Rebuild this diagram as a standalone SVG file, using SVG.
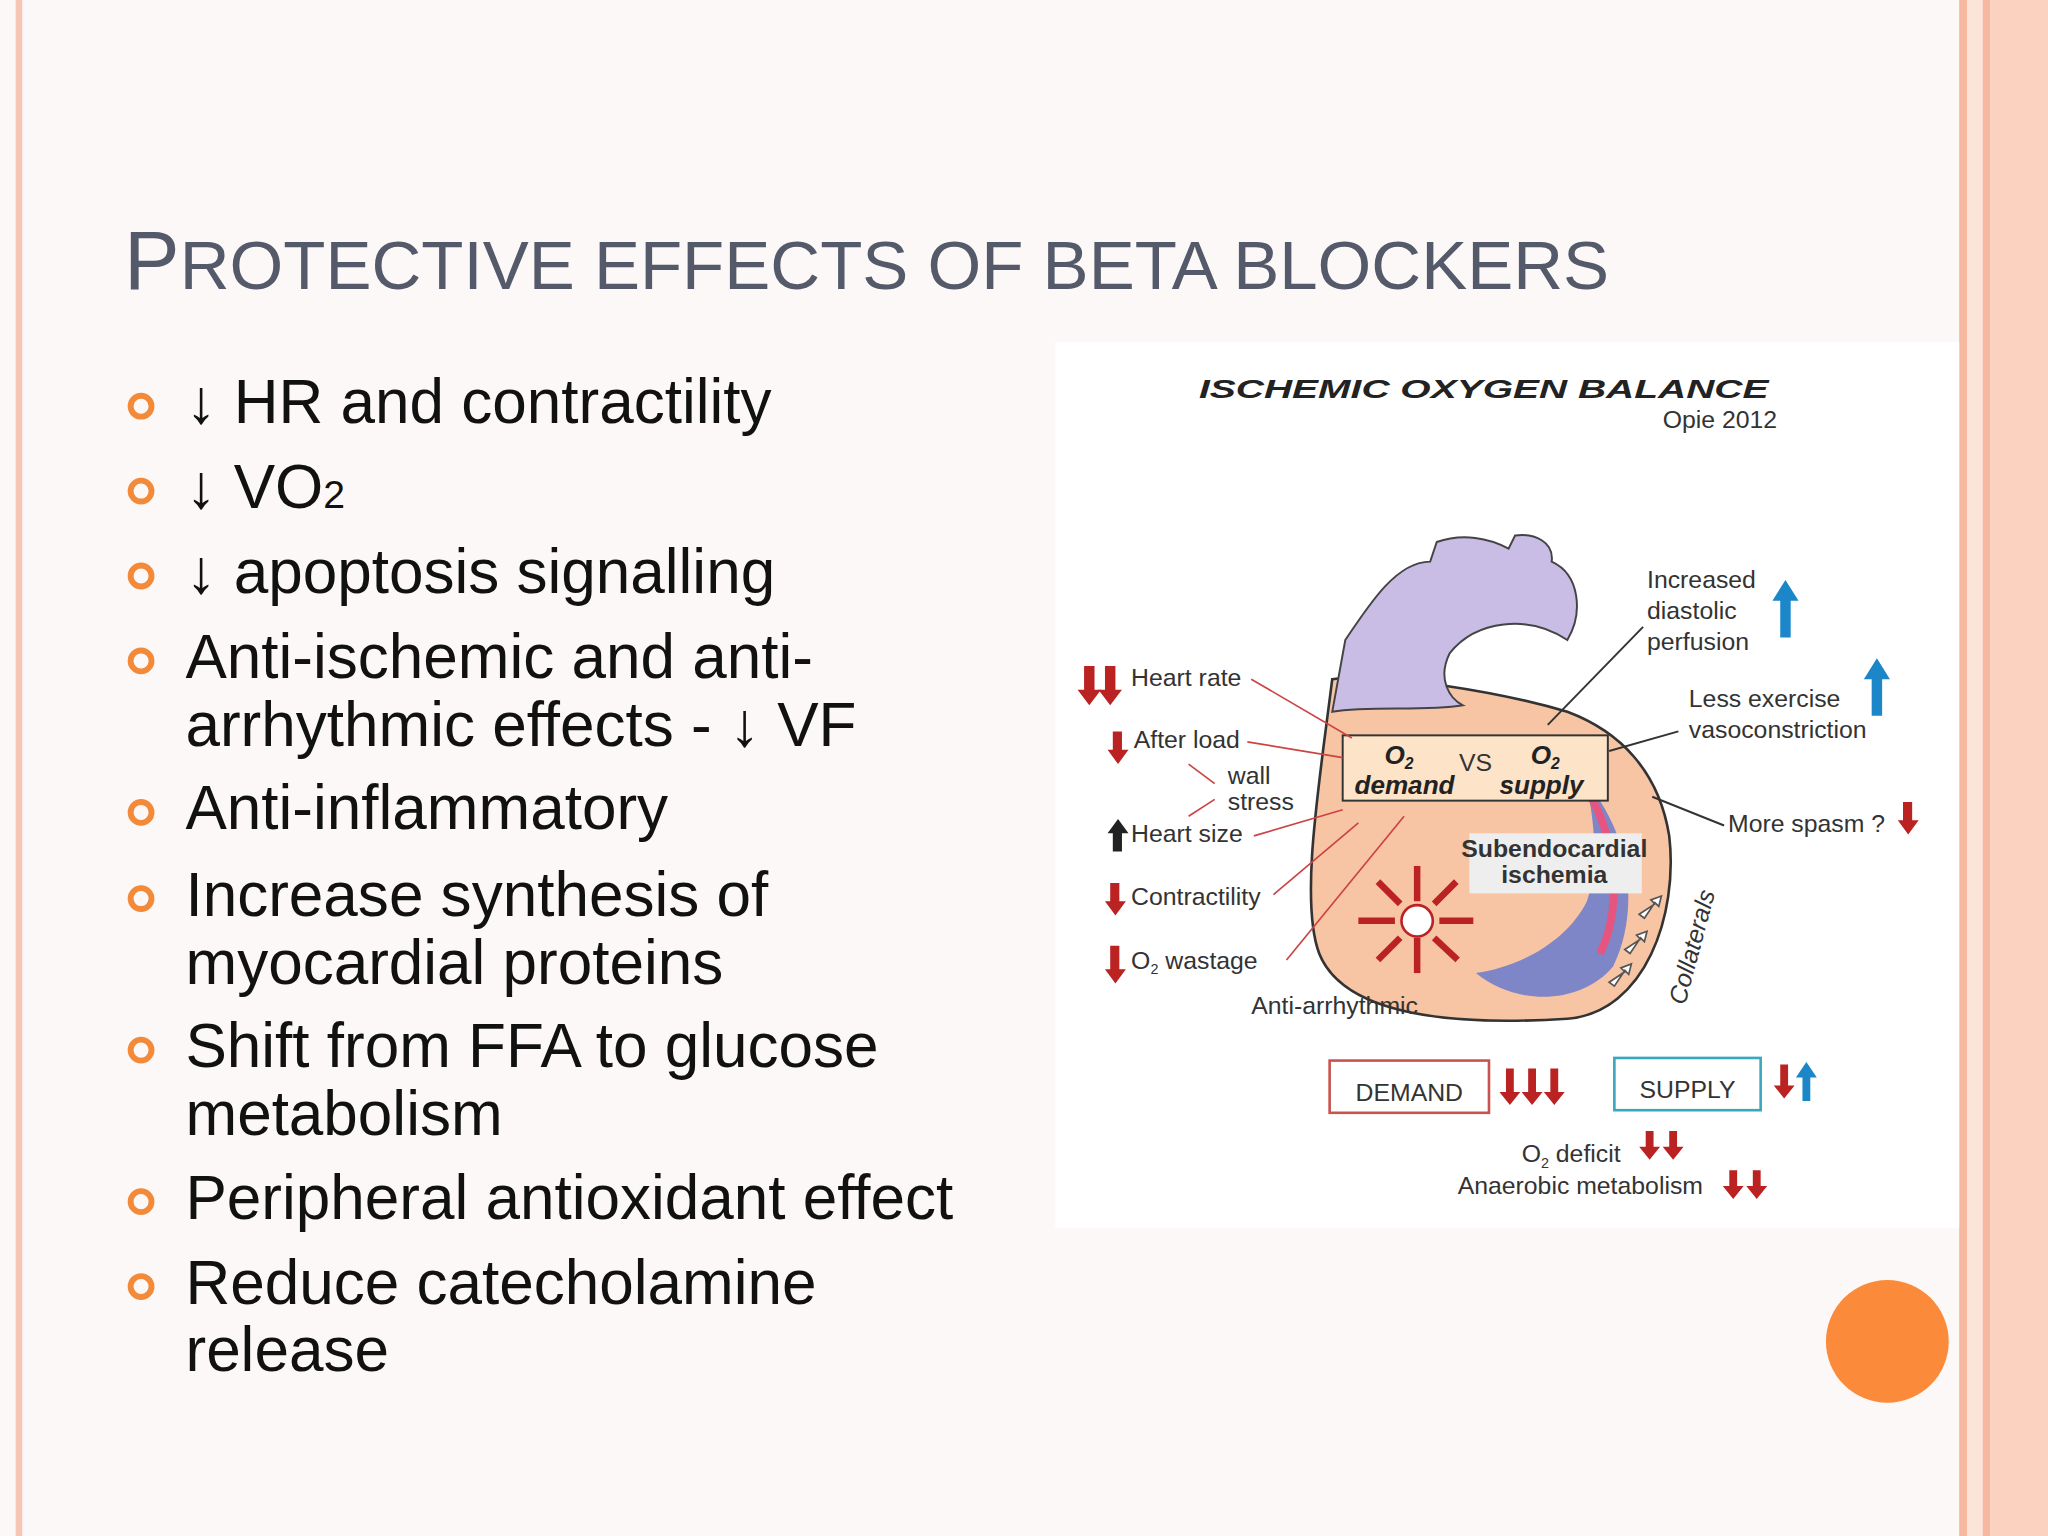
<svg xmlns="http://www.w3.org/2000/svg" width="2048" height="1536" viewBox="0 0 2048 1536">
<defs>
<style>
.b{font-family:"Liberation Sans",Arial,sans-serif;font-size:47.5px;fill:#111}
.s{font-family:"Liberation Sans",Arial,sans-serif;font-size:19px;fill:#333}
.bi{font-family:"Liberation Sans",Arial,sans-serif;font-size:20px;font-weight:bold;font-style:italic;fill:#222}
.ln{stroke:#c44;stroke-width:1.3;fill:none}
.dk{stroke:#333;stroke-width:1.5;fill:none}
</style>
</defs>
<rect width="2048" height="1536" fill="#fcf8f7"/>
<g transform="scale(1.30612)">
<rect x="12" y="0" width="5" height="1176" fill="#f6c5b4"/>
<rect x="1500" y="0" width="6" height="1176" fill="#f6b9a0"/>
<rect x="1506" y="0" width="12" height="1176" fill="#fde4d8"/>
<rect x="1518" y="0" width="6" height="1176" fill="#f6b9a0"/>
<rect x="1524" y="0" width="44" height="1176" fill="#fbd2c0"/>
<text x="95" y="221" font-family="Liberation Sans,Arial,sans-serif" fill="#545a6a" font-size="64" textLength="1137" lengthAdjust="spacingAndGlyphs">P<tspan font-size="53">ROTECTIVE EFFECTS OF BETA BLOCKERS</tspan></text>
<g fill="none" stroke="#f28a3a" stroke-width="4.5">
<circle cx="108" cy="311" r="8"/><circle cx="108" cy="376" r="8"/><circle cx="108" cy="441" r="8"/><circle cx="108" cy="506" r="8"/><circle cx="108" cy="622" r="8"/><circle cx="108" cy="688" r="8"/><circle cx="108" cy="804" r="8"/><circle cx="108" cy="920" r="8"/><circle cx="108" cy="985" r="8"/>
</g>
<text class="b" x="142" y="324">↓ HR and contractility</text>
<text class="b" x="142" y="389">↓ VO<tspan font-size="30">2</tspan></text>
<text class="b" x="142" y="454">↓ apoptosis signalling</text>
<text class="b" x="142" y="519">Anti-ischemic and anti-</text>
<text class="b" x="142" y="571">arrhythmic effects - ↓ VF</text>
<text class="b" x="142" y="635">Anti-inflammatory</text>
<text class="b" x="142" y="701">Increase synthesis of</text>
<text class="b" x="142" y="753">myocardial proteins</text>
<text class="b" x="142" y="817">Shift from FFA to glucose</text>
<text class="b" x="142" y="869">metabolism</text>
<text class="b" x="142" y="933">Peripheral antioxidant effect</text>
<text class="b" x="142" y="998">Reduce catecholamine</text>
<text class="b" x="142" y="1050">release</text>
<g id="figure">
<rect x="808" y="262" width="692" height="678" fill="#fff"/>
<text class="bi" x="918" y="305" font-size="29" textLength="436" lengthAdjust="spacingAndGlyphs">ISCHEMIC OXYGEN BALANCE</text>
<text class="s" x="1273" y="328" font-size="16">Opie 2012</text>
<path d="M1020,520 C1010,600 995,690 1010,730 C1030,780 1120,785 1200,780 C1260,775 1285,700 1278,640 C1270,590 1240,560 1200,545 C1150,530 1060,515 1020,520Z" fill="#f7c4a4" stroke="#333" stroke-width="2"/>
<path d="M1020,545 L1030,490 C1050,460 1070,430 1095,430 L1100,415 C1120,408 1140,412 1155,420 L1160,410 C1175,408 1190,415 1188,430 C1210,440 1212,470 1200,490 C1170,470 1130,475 1110,500 C1100,520 1110,535 1120,540 C1090,545 1050,540 1020,545Z" fill="#c9bde6" stroke="#444" stroke-width="1.5"/>
<path d="M1215,600 C1250,640 1255,700 1235,740 C1210,770 1160,770 1130,745 C1165,740 1200,720 1215,690 C1225,660 1220,630 1215,600Z" fill="#7f86c8"/>
<path d="M1218,610 C1240,650 1240,700 1225,730" stroke="#e6557f" stroke-width="6" fill="none"/>
<rect x="1028" y="563" width="203" height="50" fill="#fde3c8" stroke="#333" stroke-width="1.5"/>
<text class="bi" x="1060" y="585">O<tspan font-size="12" dy="4">2</tspan></text>
<text class="s" x="1117" y="590">VS</text>
<text class="bi" x="1172" y="585">O<tspan font-size="12" dy="4">2</tspan></text>
<text class="bi" x="1037" y="608">demand</text>
<text class="bi" x="1148" y="608">supply</text>
<rect x="1125" y="638" width="132" height="46" fill="#eee"/>
<text class="s" x="1190" y="656" text-anchor="middle" font-weight="bold" font-size="15">Subendocardial</text>
<text class="s" x="1190" y="676" text-anchor="middle" font-weight="bold" font-size="15">ischemia</text>
<g stroke="#b22" stroke-width="5">
<line x1="1085" y1="663" x2="1085" y2="690"/><line x1="1085" y1="718" x2="1085" y2="745"/><line x1="1040" y1="705" x2="1068" y2="705"/><line x1="1102" y1="705" x2="1128" y2="705"/><line x1="1055" y1="675" x2="1072" y2="692"/><line x1="1098" y1="718" x2="1116" y2="735"/><line x1="1115" y1="675" x2="1098" y2="692"/><line x1="1072" y1="718" x2="1055" y2="735"/>
</g>
<circle cx="1085" cy="705" r="12" fill="#fff" stroke="#b22" stroke-width="2"/>
<g class="ln">
<path d="M958,520 L1035,565"/><path d="M955,568 L1028,580"/><path d="M910,585 L930,600"/><path d="M910,625 L930,612"/><path d="M960,640 L1028,620"/><path d="M975,685 L1040,630"/><path d="M985,735 L1075,625"/>
</g>
<g class="dk"><path d="M1258,480 L1185,555"/><path d="M1285,560 L1232,575"/><path d="M1320,632 L1265,610"/></g>
<text class="s" x="866" y="525">Heart rate</text>
<text class="s" x="868" y="573">After load</text>
<text class="s" x="940" y="600">wall</text>
<text class="s" x="940" y="620">stress</text>
<text class="s" x="866" y="645">Heart size</text>
<text class="s" x="866" y="693">Contractility</text>
<text class="s" x="866" y="742">O<tspan font-size="11" dy="4">2</tspan><tspan dy="-4"> wastage</tspan></text>
<text class="s" x="958" y="776">Anti-arrhythmic</text>
<text class="s" x="1261" y="450">Increased</text>
<text class="s" x="1261" y="474">diastolic</text>
<text class="s" x="1261" y="498">perfusion</text>
<text class="s" x="1293" y="541">Less exercise</text>
<text class="s" x="1293" y="565">vasoconstriction</text>
<text class="s" x="1323" y="637">More spasm ?</text>
<text class="s" x="1290" y="770" transform="rotate(-75 1290 770)" font-style="italic" font-size="15">Collaterals</text>
<g fill="#b22">
<path d="M830,510h8v18h5l-9,12l-9,-12h5z"/><path d="M846,510h8v18h5l-9,12l-9,-12h5z"/>
<path d="M852,560h7v14h5l-8,11l-8,-11h4z"/>
<path d="M852,652h7v-14h5l-8,-11l-8,11h4z" fill="#222"/>
<path d="M850,676h7v14h5l-8,11l-8,-11h4z"/>
<path d="M850,724h7v18h5l-8,11l-8,-11h4z"/>
<path d="M1457,614h7v14h5l-8,11l-8,-11h4z"/>
<path d="M1153,818h6v18h5l-8,10l-8,-10h5z"/><path d="M1170,818h6v18h5l-8,10l-8,-10h5z"/><path d="M1187,818h6v18h5l-8,10l-8,-10h5z"/>
<path d="M1363,815h6v16h5l-8,10l-8,-10h5z"/>
<path d="M1260,866h6v12h5l-8,10l-8,-10h5z"/><path d="M1278,866h6v12h5l-8,10l-8,-10h5z"/>
<path d="M1324,896h6v12h5l-8,10l-8,-10h5z"/><path d="M1342,896h6v12h5l-8,10l-8,-10h5z"/>
</g>
<g fill="#1b86c8">
<path d="M1363,488h8v-28h6l-10,-16l-10,16h6z"/>
<path d="M1433,548h8v-28h6l-10,-16l-10,16h6z"/>
<path d="M1380,843h6v-18h5l-8,-12l-8,12h5z"/>
</g>
<g fill="#fff" stroke="#555" stroke-width="1.3">
<path d="M1232,752l12,-8l-3,-3l8,-3l-2,8l-3,-3l-8,12z"/><path d="M1244,727l12,-8l-3,-3l8,-3l-2,8l-3,-3l-8,12z"/><path d="M1255,700l12,-8l-3,-3l8,-3l-2,8l-3,-3l-8,12z"/>
</g>
<rect x="1018" y="812" width="122" height="40" fill="none" stroke="#c9544f" stroke-width="2"/>
<text class="s" x="1079" y="843" text-anchor="middle" font-size="25">DEMAND</text>
<rect x="1236" y="810" width="112" height="40" fill="none" stroke="#3aa7bc" stroke-width="2"/>
<text class="s" x="1292" y="841" text-anchor="middle" font-size="25">SUPPLY</text>
<text class="s" x="1165" y="890">O<tspan font-size="11" dy="4">2</tspan><tspan dy="-4"> deficit</tspan></text>
<text class="s" x="1116" y="914">Anaerobic metabolism</text>
</g>
<circle cx="1445" cy="1027" r="47" fill="#fb8a3a"/>
</g>
</svg>
